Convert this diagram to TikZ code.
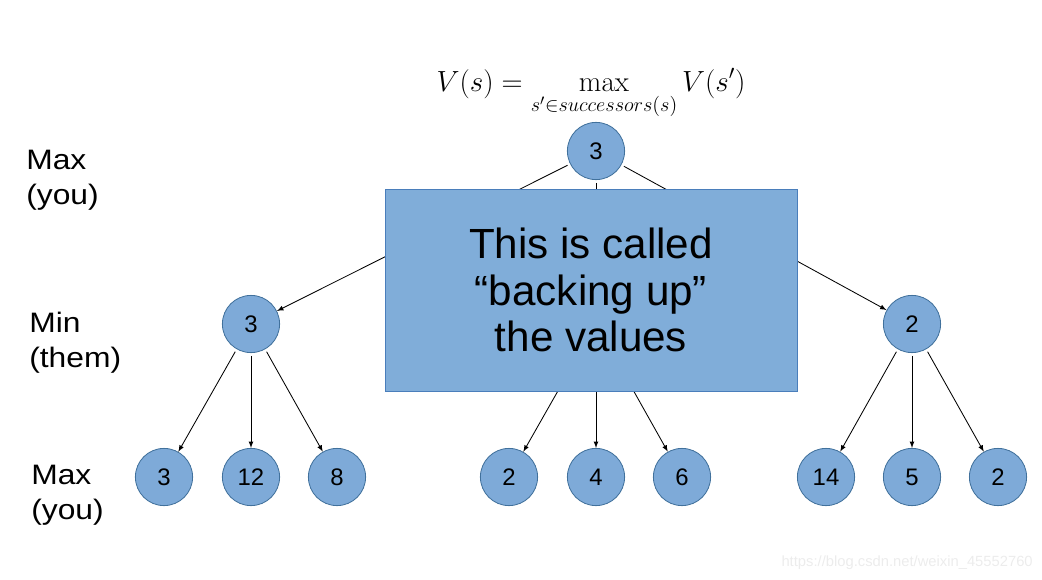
\documentclass[tikz,border=0pt]{standalone}
\usepackage{amsmath}
\usepackage[no-math]{fontspec}
\setmainfont{Liberation Sans}
\newfontfamily\widesans[FakeStretch=1.13]{Liberation Sans}
\usetikzlibrary{arrows}
\usetikzlibrary{positioning}

\definecolor{nodefill}{RGB}{126,170,216}
\definecolor{nodeline}{RGB}{65,113,156}
\definecolor{boxfill}{RGB}{128,173,217}
\definecolor{boxline}{RGB}{74,126,187}

\tikzset{
	val/.style={circle, draw=nodeline, fill=nodefill, line width=0.6pt, minimum size=1.43cm, inner sep=0pt, font=\fontsize{17}{20}\selectfont},
	side/.style={anchor=west, align=left, inner sep=0pt, font=\widesans\fontsize{20}{25}\selectfont},
	link/.style={-latex, line width=0.6pt, shorten <=2pt}
}

\begin{document}
\begin{tikzpicture}[x=0.025cm, y=-0.025cm]
		\useasboundingbox (0,0) rectangle (1042,580);

		% formula
		\node[font=\fontsize{21.3}{25}\selectfont] (eq) at (591,94) {$\displaystyle V(s) = \max_{s'\in successors(s)} V(s')$};

		% players
		\node[side] (p1) at (26,180) {Max\\(you)};
		\node[side] (p2) at (29,343) {Min\\(them)};
		\node[side] (p3) at (31,495) {Max\\(you)};

		% tree (middle min node sits under the note)
		\path
		(596,151) node[val] (r) {3}
		(251,324) node[val] (a) {3}
		(596,324) node[val] (b) {}
		(912,324) node[val] (c) {2}
		(164,477) node[val] (a1) {3}
		(251,477) node[val] (a2) {12}
		(337,477) node[val] (a3) {8}
		(509,477) node[val] (b1) {2}
		(596,477) node[val] (b2) {4}
		(682,477) node[val] (b3) {6}
		(826,477) node[val] (c1) {14}
		(912,477) node[val] (c2) {5}
		(998,477) node[val] (c3) {2};

		\foreach \p in {a,b,c}
			\draw[link] (r) -- (\p);
		\foreach \p in {a,b,c}
			\foreach \k in {1,2,3}
				\draw[link] (\p) -- (\p\k);

		% note on top
		\node[draw=boxline, fill=boxfill, line width=0.6pt, minimum width=10.3cm, minimum height=5.05cm, align=center, font=\fontsize{30}{33}\selectfont] (note) at (591,290) {This is called\\“backing up”\\the values};

		\node[anchor=east, inner sep=0pt, text=gray!15, font=\fontsize{10.5}{12}\selectfont] (wm) at (1033,563) {https://blog.csdn.net/weixin\_45552760};
	\end{tikzpicture}
\end{document}
